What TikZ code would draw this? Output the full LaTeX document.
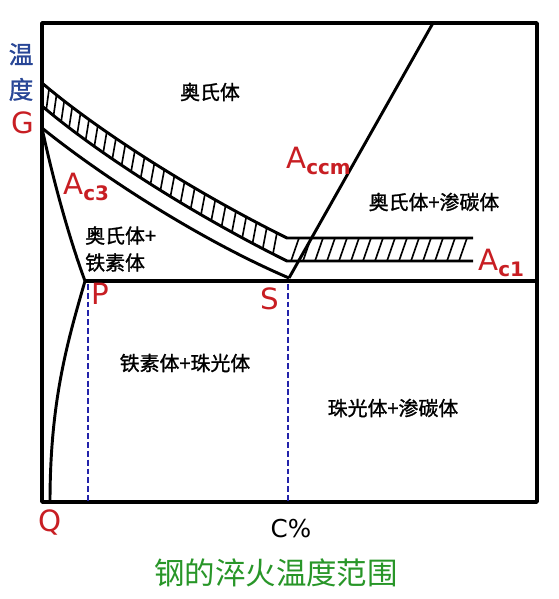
\documentclass[tikz,border=0pt]{standalone}
\usepackage{fontspec}
\setmainfont{DejaVu Sans}
\newfontfamily\cjk[FakeBold=1.2]{Noto Sans CJK SC}
\newfontfamily\cjkplain{Noto Sans CJK SC}
\usetikzlibrary{calc}
\definecolor{labelred}{RGB}{200,30,35}
\definecolor{dashblue}{RGB}{35,35,170}
\definecolor{axisblue}{RGB}{40,70,150}
\definecolor{titlegreen}{RGB}{40,150,40}
\tikzset{
	phase diagram/.style={x=0.03cm, y=-0.03cm, line join=round},
	frame/.style={draw, line width=2.9pt},
	boundary/.style={draw, line width=2.5pt},
	hatch/.style={draw, line width=1.4pt},
	guide/.style={draw=dashblue, line width=1.8pt, dash pattern=on 5pt off 2.5pt},
	pt/.style={text=labelred, inner sep=0pt, font=\fontsize{25}{25}\selectfont},
	region/.style={inner sep=0pt, align=left, font=\cjk\fontsize{17}{23}\selectfont},
}
\newcommand{\critA}[1]{A\raisebox{-0.22em}{\fontsize{17}{17}\selectfont\bfseries #1}}

\begin{document}
\begin{tikzpicture}[phase diagram]
   \path[use as bounding box, fill=white] (0,0) rectangle (558,599);
   \coordinate (NW) at (42,23);
   \coordinate (SE) at (537,502);
   \coordinate (Gp) at (42,128);
   \coordinate (Pp) at (85,281);
   \coordinate (Sp) at (289,278);
   \coordinate (Qp) at (50,502);
   \coordinate (E1) at (537,281);
   \coordinate (Etop) at (433,23);
   \coordinate (hiL) at (42,83);  \coordinate (hiR) at (287,238); \coordinate (hiE) at (473,238);
   \coordinate (loL) at (42,106); \coordinate (loR) at (287,261); \coordinate (loE) at (473,261);
   \coordinate (Pb) at (88,502);  \coordinate (Sb) at (288,502);
   \draw[frame] (NW) rectangle (SE);
   % hatched band
   \draw[boundary] (hiL) .. controls (102,134) and (200,195) .. (hiR) -- (hiE);
   \draw[boundary] (loL) .. controls (102,157) and (200,218) .. (loR) -- (loE);
   \foreach \i [evaluate=\i as \tu using \i/26, evaluate=\i as \tl using \i/26-0.015] in {1,...,25} {
      \path (hiL) .. controls (102,134) and (200,195) .. (hiR) coordinate[pos=\tu] (hu\i);
      \path (loL) .. controls (102,157) and (200,218) .. (loR) coordinate[pos=\tl] (hl\i);
      \draw[hatch] (hu\i) -- (hl\i);
   }
   \foreach \x in {4,16,...,172}
      \draw[hatch] ($(loR)+(\x,0)$) -- ($(hiR)+(\x+8,0)$);
   % phase lines
   \draw[boundary] (Gp) .. controls (100,175) and (200,240) .. (Sp);
   \draw[boundary] (Gp) .. controls (52,175) and (68,235) .. (Pp);
   \draw[boundary] (Pp) .. controls (68,340) and (50,400) .. (Qp);
   \draw[boundary] (Sp) -- (Etop);
   \draw[frame] (Pp) -- (E1);
   \draw[guide] ($(Pp)+(3,3)$) -- (Pb);
   \draw[guide] ($(Sp)+(-1,6)$) -- (Sb);
   % labels
   \node[text=axisblue, align=center, inner sep=0pt, font=\cjk\fontsize{21}{30}\selectfont] (temp) at (21,72) {温\\度};
   \node[pt] (G) at (23,123) {G};
   \node[pt] (P) at (100,294) {P};
   \node[pt] (S) at (270,299) {S};
   \node[pt] (Q) at (50,523) {Q};
   \node[pt, anchor=west] (Ac3) at (63,187) {\critA{c3}};
   \node[pt, anchor=west] (Accm) at (286,161) {\critA{ccm}};
   \node[pt, anchor=west] (Ac1) at (478,263) {\critA{c1}};
   \node[region] (aus) at (210,92) {奥氏体};
   \node[region, anchor=west] (ausfer) at (85,249) {奥氏体+\\铁素体};
   \node[region] (auscem) at (434,202) {奥氏体+渗碳体};
   \node[region] (ferpea) at (185,363) {铁素体+珠光体};
   \node[region] (peacem) at (393,408) {珠光体+渗碳体};
   \node[inner sep=0pt, font=\fontsize{21}{21}\selectfont] (carbon) at (291,529) {C\%};
   \node[text=titlegreen, inner sep=0pt, font=\cjkplain\fontsize{26}{26}\selectfont] (title) at (276,573) {钢的淬火温度范围};
\end{tikzpicture}
\end{document}
